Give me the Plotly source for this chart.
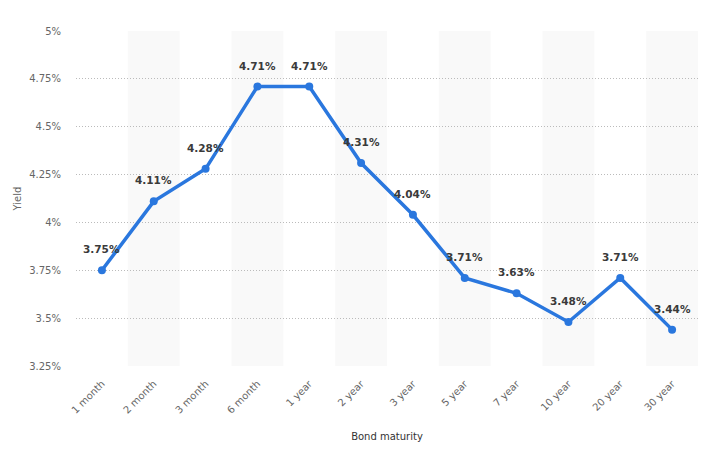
import plotly.graph_objects as go

maturities = ["1 month", "2 month", "3 month", "6 month", "1 year", "2 year",
              "3 year", "5 year", "7 year", "10 year", "20 year", "30 year"]
yields = [3.75, 4.11, 4.28, 4.71, 4.71, 4.31, 4.04, 3.71, 3.63, 3.48, 3.71, 3.44]
y_ticks = [3.25, 3.5, 3.75, 4, 4.25, 4.5, 4.75, 5]
y_tick_labels = ["3.25%", "3.5%", "3.75%", "4%", "4.25%", "4.5%", "4.75%", "5%"]

fig = go.Figure()

shapes = []
for i, m in enumerate(maturities):
    if i % 2 == 1:
        shapes.append(dict(type="rect", xref="x", yref="paper",
                           x0=i - 0.5, x1=i + 0.5, y0=0, y1=1,
                           fillcolor="#f9f9f9", line=dict(width=0), layer="below"))

fig.add_trace(go.Scatter(
    x=maturities, y=yields, mode="lines+markers",
    line=dict(color="#2a77de", width=3.5),
    marker=dict(color="#2a77de", size=8),
    cliponaxis=False,
    hoverinfo="skip",
))

annotations = [
    dict(x=m, y=v, xref="x", yref="y", text=f"<b>{v:.2f}%</b>",
         showarrow=False, yshift=21,
         font=dict(family="DejaVu Sans", size=10.5, color="#3a3a3a"))
    for m, v in zip(maturities, yields)
]

fig.update_layout(
    width=700, height=447,
    margin=dict(l=68, r=10, t=23, b=89),
    plot_bgcolor="white", paper_bgcolor="white",
    showlegend=False,
    shapes=shapes,
    annotations=annotations,
    font=dict(family="DejaVu Sans", color="#666666"),
    xaxis=dict(
        type="category", range=[-0.5, 11.5], automargin=False,
        tickangle=-45, tickfont=dict(size=10, color="#666666"),
        showgrid=False, zeroline=False, showline=False, ticks="",
        ticklabelstandoff=9,
        title=dict(text="Bond maturity", font=dict(size=10, color="#333333"), standoff=18),
    ),
    yaxis=dict(
        range=[3.25, 5], tickvals=y_ticks, ticktext=y_tick_labels, automargin=False,
        tickfont=dict(size=10, color="#666666"),
        showgrid=True, gridcolor="#bbbbbb", griddash="1px,2px", gridwidth=1,
        zeroline=False, showline=False, ticks="", ticklabelstandoff=14,
        title=dict(text="Yield", font=dict(size=10, color="#666666"), standoff=5),
    ),
)

fig.write_html("out.html")
